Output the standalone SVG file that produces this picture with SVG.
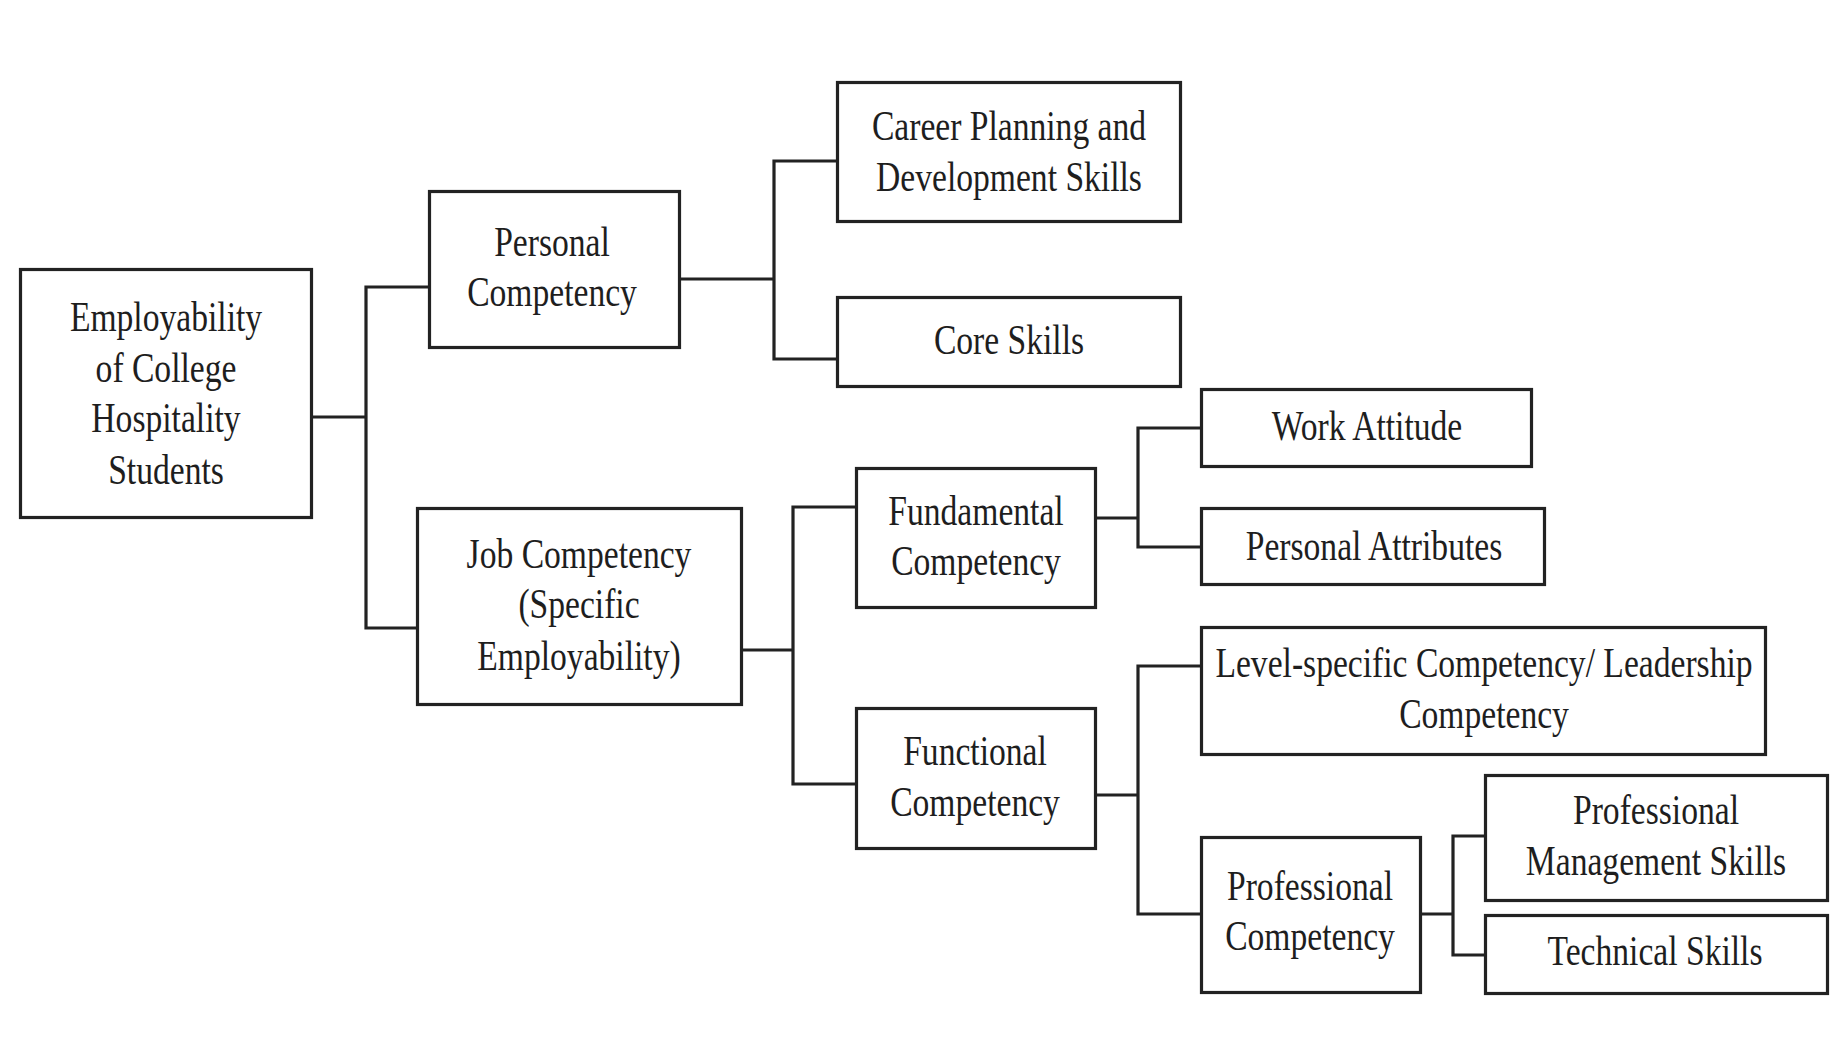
<svg xmlns="http://www.w3.org/2000/svg" width="1844" height="1050" viewBox="0 0 1844 1050">
<style>
.box{fill:#fff;stroke:#222;stroke-width:3.2}
.con{fill:none;stroke:#222;stroke-width:3.2;stroke-linecap:square}
.t{font-family:"Liberation Serif","Times New Roman",serif;font-size:42px;fill:#1e1e1e;text-anchor:middle}
</style>
<rect width="1844" height="1050" fill="#fff"/>
<g id="connectors">
<path class="con" d="M313 417H366M366 287V628M366 287H428M366 628H416"/>
<path class="con" d="M681 279H774M774 161V359M774 161H836M774 359H836"/>
<path class="con" d="M743 650H793M793 507V784M793 507H855M793 784H855"/>
<path class="con" d="M1097 518H1138M1138 428V547M1138 428H1200M1138 547H1200"/>
<path class="con" d="M1097 795H1138M1138 666V914M1138 666H1200M1138 914H1200"/>
<path class="con" d="M1422 914H1453M1453 836V955M1453 836H1484M1453 955H1484"/>
</g>
<g id="root">
<rect class="box" x="20.5" y="269.5" width="291" height="248"/>
<text class="t" transform="translate(166 0) scale(0.8 1)"><tspan x="0" y="331">Employability</tspan><tspan x="0" y="382">of College</tspan><tspan x="0" y="432">Hospitality</tspan><tspan x="0" y="484">Students</tspan></text>
</g>
<g id="personal">
<rect class="box" x="429.5" y="191.5" width="250" height="156"/>
<text class="t" transform="translate(552 0) scale(0.8 1)"><tspan x="0" y="256">Personal</tspan><tspan x="0" y="306">Competency</tspan></text>
</g>
<g id="career">
<rect class="box" x="837.5" y="82.5" width="343" height="139"/>
<text class="t" transform="translate(1009 0) scale(0.8 1)"><tspan x="0" y="140">Career Planning and</tspan><tspan x="0" y="191">Development Skills</tspan></text>
</g>
<g id="core">
<rect class="box" x="837.5" y="297.5" width="343" height="89"/>
<text class="t" transform="translate(1009 0) scale(0.8 1)"><tspan x="0" y="354">Core Skills</tspan></text>
</g>
<g id="job">
<rect class="box" x="417.5" y="508.5" width="324" height="196"/>
<text class="t" transform="translate(579 0) scale(0.8 1)"><tspan x="0" y="568">Job Competency</tspan><tspan x="0" y="618">(Specific</tspan><tspan x="0" y="670">Employability)</tspan></text>
</g>
<g id="fundamental">
<rect class="box" x="856.5" y="468.5" width="239" height="139"/>
<text class="t" transform="translate(976 0) scale(0.8 1)"><tspan x="0" y="525">Fundamental</tspan><tspan x="0" y="575">Competency</tspan></text>
</g>
<g id="functional">
<rect class="box" x="856.5" y="708.5" width="239" height="140"/>
<text class="t" transform="translate(975 0) scale(0.8 1)"><tspan x="0" y="765">Functional</tspan><tspan x="0" y="816">Competency</tspan></text>
</g>
<g id="work-attitude">
<rect class="box" x="1201.5" y="389.5" width="330" height="77"/>
<text class="t" transform="translate(1367 0) scale(0.8 1)"><tspan x="0" y="440">Work Attitude</tspan></text>
</g>
<g id="personal-attributes">
<rect class="box" x="1201.5" y="508.5" width="343" height="76"/>
<text class="t" transform="translate(1374 0) scale(0.8 1)"><tspan x="0" y="560">Personal Attributes</tspan></text>
</g>
<g id="level-specific">
<rect class="box" x="1201.5" y="627.5" width="564" height="127"/>
<text class="t" transform="translate(1484 0) scale(0.8 1)"><tspan x="0" y="677">Level-specific Competency/ Leadership</tspan><tspan x="0" y="728">Competency</tspan></text>
</g>
<g id="professional">
<rect class="box" x="1201.5" y="837.5" width="219" height="155"/>
<text class="t" transform="translate(1310 0) scale(0.8 1)"><tspan x="0" y="900">Professional</tspan><tspan x="0" y="950">Competency</tspan></text>
</g>
<g id="prof-management">
<rect class="box" x="1485.5" y="775.5" width="342" height="125"/>
<text class="t" transform="translate(1656 0) scale(0.8 1)"><tspan x="0" y="824">Professional</tspan><tspan x="0" y="875">Management Skills</tspan></text>
</g>
<g id="technical">
<rect class="box" x="1485.5" y="915.5" width="342" height="78"/>
<text class="t" transform="translate(1655 0) scale(0.8 1)"><tspan x="0" y="965">Technical Skills</tspan></text>
</g>
</svg>
